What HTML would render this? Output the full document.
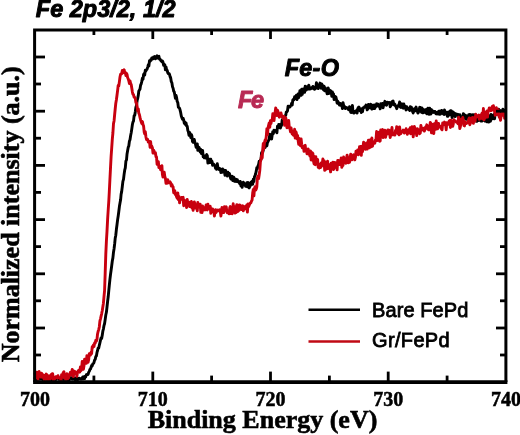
<!DOCTYPE html>
<html><head><meta charset="utf-8"><title>Fe 2p XAS</title>
<style>
html,body{margin:0;padding:0;background:#fff;}
body{width:520px;height:435px;overflow:hidden;position:relative;}
svg{position:absolute;left:0;top:0;display:block;}
.serif{font-family:"Liberation Serif",serif;font-weight:bold;}
.sans{font-family:"Liberation Sans",sans-serif;}
</style></head><body>
<svg width="520" height="435" viewBox="0 0 520 435">
<rect width="520" height="435" fill="#fff"/>
<polyline points="35.0,378.2 35.6,379.1 36.2,377.9 36.8,379.6 37.4,378.5 38.0,377.9 38.5,379.2 39.1,378.3 39.7,379.1 40.3,377.9 40.9,378.9 41.5,378.2 42.1,377.5 42.7,379.6 43.3,378.0 43.9,378.2 44.4,377.6 45.0,377.4 45.6,377.2 46.2,378.2 46.8,379.2 47.4,378.0 48.0,378.1 48.6,379.9 49.2,380.2 49.8,378.7 50.3,378.6 50.9,377.8 51.5,377.8 52.1,379.7 52.7,378.5 53.3,377.2 53.9,378.8 54.5,379.0 55.1,378.7 55.7,379.5 56.2,377.5 56.8,378.4 57.4,378.3 58.0,377.7 58.6,378.8 59.2,379.3 59.8,379.0 60.4,378.0 61.0,379.4 61.6,378.6 62.1,378.1 62.7,379.3 63.3,378.0 63.9,379.5 64.5,378.5 65.1,379.3 65.7,377.4 66.3,379.2 66.9,377.8 67.5,377.1 68.0,379.8 68.6,379.4 69.2,379.7 69.8,378.6 70.4,378.3 71.0,377.6 71.6,378.4 72.2,379.0 72.8,378.7 73.4,377.8 73.9,378.0 74.5,379.1 75.1,379.7 75.7,379.5 76.3,377.7 76.9,378.4 77.5,379.8 78.1,378.7 78.7,378.4 79.3,378.3 79.8,378.6 80.4,379.1 81.0,379.0 81.6,379.1 82.2,378.4 82.8,376.9 83.4,378.8 84.0,376.8 84.6,378.6 85.2,376.3 85.7,376.9 86.3,374.8 86.9,374.7 87.5,374.2 88.1,374.4 88.7,372.2 89.3,371.3 89.9,369.4 90.5,369.0 91.1,367.3 91.6,365.6 92.2,365.9 92.8,363.9 93.4,363.4 94.0,362.4 94.6,360.2 95.2,359.4 95.8,356.5 96.4,356.1 97.0,352.4 97.5,350.8 98.1,348.2 98.7,348.2 99.3,345.3 99.9,342.8 100.5,340.2 101.1,338.0 101.7,338.3 102.3,335.1 102.9,330.8 103.4,329.1 104.0,325.6 104.6,323.5 105.2,319.4 105.8,315.0 106.4,312.3 107.0,307.0 107.6,301.5 108.2,296.8 108.8,290.3 109.3,285.3 109.9,279.7 110.5,274.7 111.1,270.3 111.7,265.8 112.3,261.0 112.9,257.9 113.5,252.2 114.1,248.5 114.7,243.5 115.2,238.3 115.8,235.2 116.4,229.3 117.0,224.7 117.6,219.9 118.2,216.0 118.8,211.5 119.4,206.6 120.0,203.1 120.6,199.8 121.1,194.4 121.7,191.4 122.3,186.5 122.9,181.4 123.5,179.4 124.1,174.4 124.7,170.2 125.3,167.9 125.9,161.1 126.5,159.9 127.0,154.3 127.6,150.8 128.2,147.4 128.8,146.0 129.4,141.3 130.0,139.8 130.6,135.7 131.2,132.8 131.8,128.9 132.4,124.5 132.9,122.2 133.5,121.1 134.1,115.8 134.7,115.4 135.3,111.7 135.9,107.2 136.5,105.5 137.1,100.7 137.7,98.4 138.3,95.3 138.8,91.0 139.4,90.2 140.0,89.0 140.6,85.1 141.2,83.8 141.8,81.4 142.4,78.3 143.0,79.3 143.6,74.4 144.2,73.4 144.7,75.2 145.3,70.2 145.9,71.0 146.5,69.7 147.1,69.1 147.7,67.1 148.3,64.8 148.9,65.9 149.5,60.6 150.1,61.2 150.6,59.8 151.2,60.2 151.8,58.0 152.4,58.1 153.0,58.7 153.6,57.0 154.2,57.7 154.8,56.6 155.4,58.8 156.0,57.7 156.5,57.1 157.1,55.8 157.7,58.0 158.3,56.5 158.9,56.3 159.5,59.1 160.1,59.2 160.7,60.5 161.3,60.7 161.9,61.8 162.4,60.9 163.0,62.1 163.6,65.2 164.2,64.4 164.8,64.7 165.4,69.9 166.0,66.9 166.6,69.8 167.2,70.3 167.8,72.9 168.3,73.5 168.9,73.4 169.5,74.3 170.1,76.6 170.7,78.1 171.3,81.7 171.9,82.9 172.5,86.8 173.1,88.2 173.7,91.3 174.2,91.8 174.8,94.7 175.4,98.2 176.0,95.3 176.6,97.7 177.2,101.4 177.8,102.7 178.4,107.2 179.0,107.6 179.6,108.4 180.1,110.2 180.7,112.7 181.3,116.1 181.9,117.7 182.5,119.2 183.1,118.3 183.7,120.0 184.3,123.3 184.9,122.0 185.5,124.6 186.0,122.8 186.6,125.9 187.2,126.1 187.8,130.3 188.4,132.0 189.0,135.3 189.6,132.5 190.2,133.6 190.8,137.6 191.4,134.6 191.9,136.0 192.5,141.5 193.1,142.1 193.7,141.4 194.3,139.4 194.9,142.6 195.5,144.1 196.1,147.2 196.7,146.0 197.3,143.9 197.8,150.4 198.4,148.1 199.0,147.4 199.6,148.9 200.2,151.9 200.8,149.4 201.4,153.6 202.0,153.1 202.6,150.4 203.2,156.8 203.7,156.5 204.3,157.8 204.9,156.1 205.5,158.0 206.1,155.9 206.7,154.6 207.3,155.7 207.9,163.1 208.5,160.7 209.1,162.7 209.6,159.2 210.2,162.5 210.8,159.3 211.4,161.6 212.0,161.3 212.6,165.2 213.2,163.8 213.8,164.4 214.4,165.3 215.0,165.9 215.5,168.3 216.1,166.3 216.7,169.4 217.3,163.7 217.9,167.2 218.5,168.8 219.1,169.4 219.7,168.5 220.3,168.9 220.9,172.6 221.4,171.6 222.0,172.2 222.6,168.9 223.2,170.5 223.8,170.0 224.4,171.6 225.0,175.3 225.6,170.5 226.2,173.4 226.8,173.2 227.3,176.1 227.9,172.1 228.5,173.9 229.1,173.2 229.7,174.3 230.3,177.4 230.9,178.9 231.5,176.8 232.1,176.2 232.7,180.5 233.2,180.6 233.8,177.2 234.4,181.3 235.0,181.4 235.6,179.2 236.2,181.6 236.8,179.8 237.4,179.8 238.0,181.8 238.6,181.5 239.1,182.4 239.7,183.6 240.3,181.5 240.9,185.7 241.5,182.7 242.1,187.4 242.7,184.3 243.3,182.2 243.9,183.2 244.5,184.8 245.0,183.7 245.6,186.4 246.2,185.4 246.8,182.8 247.4,186.8 248.0,182.5 248.6,187.0 249.2,187.9 249.8,186.5 250.4,185.3 250.9,182.3 251.5,181.9 252.1,181.3 252.7,184.4 253.3,179.2 253.9,181.6 254.5,176.6 255.1,175.7 255.7,173.5 256.3,170.9 256.8,167.6 257.4,168.3 258.0,165.8 258.6,164.5 259.2,161.3 259.8,161.3 260.4,160.2 261.0,159.4 261.6,152.6 262.2,151.9 262.7,152.3 263.3,150.2 263.9,147.4 264.5,146.3 265.1,147.4 265.7,145.7 266.3,143.6 266.9,145.8 267.5,142.3 268.1,141.6 268.6,140.3 269.2,139.2 269.8,134.3 270.4,135.4 271.0,137.5 271.6,139.0 272.2,135.1 272.8,131.6 273.4,133.6 274.0,130.1 274.5,130.8 275.1,131.3 275.7,130.5 276.3,130.4 276.9,132.8 277.5,126.1 278.1,127.7 278.7,124.4 279.3,125.4 279.9,124.4 280.4,128.0 281.0,126.3 281.6,125.2 282.2,119.8 282.8,123.8 283.4,120.8 284.0,119.3 284.6,120.1 285.2,115.6 285.8,115.0 286.3,112.0 286.9,111.9 287.5,110.8 288.1,106.2 288.7,106.4 289.3,106.9 289.9,107.0 290.5,105.8 291.1,105.0 291.7,103.2 292.2,105.0 292.8,100.0 293.4,99.4 294.0,99.7 294.6,96.7 295.2,98.4 295.8,98.5 296.4,95.3 297.0,99.6 297.6,97.5 298.1,94.0 298.7,97.5 299.3,95.3 299.9,90.8 300.5,91.7 301.1,95.4 301.7,89.3 302.3,94.3 302.9,89.2 303.5,88.9 304.0,90.9 304.6,92.3 305.2,86.2 305.8,86.9 306.4,90.0 307.0,87.6 307.6,86.6 308.2,89.0 308.8,85.1 309.4,88.9 309.9,89.1 310.5,88.7 311.1,88.7 311.7,87.5 312.3,88.3 312.9,86.4 313.5,87.3 314.1,89.1 314.7,89.3 315.3,88.7 315.8,88.1 316.4,82.8 317.0,84.3 317.6,86.0 318.2,88.6 318.8,85.5 319.4,85.5 320.0,83.1 320.6,86.1 321.2,88.3 321.7,84.0 322.3,85.1 322.9,86.2 323.5,89.7 324.1,86.1 324.7,90.8 325.3,88.0 325.9,90.1 326.5,91.0 327.1,93.8 327.6,91.9 328.2,87.9 328.8,93.6 329.4,91.9 330.0,90.3 330.6,90.9 331.2,92.2 331.8,96.2 332.4,92.0 333.0,94.4 333.5,93.9 334.1,99.5 334.7,97.3 335.3,96.5 335.9,97.0 336.5,99.6 337.1,103.1 337.7,101.2 338.3,103.7 338.9,102.7 339.4,105.0 340.0,105.2 340.6,103.6 341.2,104.4 341.8,104.4 342.4,108.6 343.0,102.6 343.6,105.4 344.2,106.0 344.8,107.0 345.3,108.5 345.9,108.1 346.5,107.5 347.1,107.8 347.7,108.5 348.3,109.3 348.9,109.8 349.5,106.7 350.1,107.8 350.7,112.2 351.2,112.5 351.8,112.4 352.4,105.4 353.0,112.0 353.6,113.1 354.2,113.0 354.8,111.4 355.4,111.6 356.0,112.3 356.6,110.3 357.1,113.0 357.7,108.7 358.3,107.6 358.9,107.0 359.5,110.6 360.1,110.7 360.7,108.9 361.3,112.6 361.9,108.6 362.5,111.7 363.0,108.8 363.6,107.4 364.2,107.6 364.8,106.5 365.4,107.0 366.0,105.1 366.6,106.9 367.2,109.9 367.8,108.8 368.4,104.5 368.9,107.4 369.5,107.7 370.1,107.8 370.7,104.3 371.3,107.6 371.9,109.1 372.5,105.3 373.1,107.1 373.7,108.5 374.3,105.0 374.8,108.5 375.4,105.8 376.0,106.4 376.6,103.8 377.2,105.5 377.8,104.1 378.4,106.1 379.0,106.4 379.6,105.7 380.2,108.9 380.7,103.8 381.3,106.8 381.9,106.5 382.5,103.5 383.1,107.7 383.7,103.7 384.3,103.5 384.9,101.3 385.5,104.7 386.1,104.2 386.6,105.2 387.2,102.2 387.8,103.1 388.4,102.5 389.0,102.9 389.6,102.5 390.2,106.7 390.8,105.8 391.4,103.7 392.0,101.8 392.5,102.1 393.1,101.1 393.7,104.7 394.3,103.8 394.9,104.3 395.5,106.0 396.1,106.7 396.7,108.7 397.3,107.0 397.9,106.0 398.4,105.4 399.0,104.8 399.6,102.0 400.2,106.9 400.8,107.4 401.4,105.6 402.0,103.8 402.6,107.6 403.2,108.1 403.8,104.0 404.3,106.8 404.9,105.9 405.5,108.3 406.1,110.0 406.7,106.6 407.3,108.8 407.9,108.8 408.5,108.6 409.1,109.8 409.7,110.4 410.2,106.8 410.8,108.3 411.4,107.3 412.0,109.4 412.6,111.6 413.2,112.9 413.8,110.8 414.4,108.8 415.0,110.9 415.6,108.4 416.1,107.1 416.7,110.1 417.3,111.1 417.9,113.1 418.5,112.2 419.1,109.8 419.7,107.3 420.3,107.5 420.9,110.0 421.5,112.3 422.0,107.9 422.6,112.9 423.2,112.8 423.8,109.6 424.4,111.1 425.0,112.3 425.6,112.6 426.2,109.4 426.8,113.9 427.4,112.2 427.9,108.3 428.5,110.0 429.1,114.3 429.7,108.3 430.3,110.0 430.9,114.1 431.5,109.7 432.1,111.6 432.7,110.8 433.3,112.4 433.8,111.4 434.4,111.7 435.0,111.5 435.6,113.4 436.2,113.9 436.8,113.0 437.4,112.2 438.0,114.0 438.6,111.7 439.2,111.0 439.7,114.3 440.3,114.1 440.9,113.5 441.5,110.5 442.1,110.7 442.7,113.5 443.3,114.0 443.9,114.5 444.5,109.9 445.1,114.1 445.6,113.7 446.2,112.0 446.8,112.4 447.4,116.4 448.0,116.3 448.6,111.9 449.2,113.2 449.8,114.8 450.4,110.8 451.0,110.7 451.5,110.8 452.1,117.6 452.7,112.9 453.3,112.1 453.9,115.8 454.5,113.2 455.1,116.6 455.7,113.6 456.3,114.3 456.9,114.8 457.4,114.3 458.0,114.5 458.6,119.8 459.2,118.7 459.8,114.6 460.4,116.6 461.0,118.2 461.6,116.8 462.2,117.8 462.8,118.5 463.3,113.6 463.9,114.6 464.5,118.3 465.1,117.3 465.7,115.3 466.3,119.3 466.9,118.3 467.5,116.5 468.1,117.1 468.7,114.7 469.2,116.6 469.8,114.5 470.4,116.9 471.0,118.0 471.6,117.4 472.2,114.6 472.8,117.5 473.4,117.8 474.0,114.7 474.6,118.3 475.1,118.6 475.7,115.4 476.3,121.3 476.9,121.4 477.5,118.6 478.1,120.5 478.7,116.2 479.3,120.2 479.9,120.1 480.5,115.6 481.0,121.1 481.6,116.1 482.2,121.0 482.8,118.6 483.4,120.3 484.0,117.6 484.6,118.1 485.2,121.1 485.8,115.9 486.4,115.8 486.9,121.9 487.5,121.4 488.1,117.2 488.7,122.0 489.3,115.8 489.9,121.2 490.5,121.2 491.1,114.5 491.7,115.4 492.3,117.3 492.8,118.8 493.4,116.8 494.0,114.4 494.6,118.7 495.2,112.9 495.8,111.5 496.4,110.8 497.0,114.5 497.6,114.0 498.2,112.4 498.7,109.2 499.3,115.5 499.9,112.9 500.5,110.7 501.1,111.8 501.7,114.6 502.3,113.1 502.9,109.3 503.5,114.1 504.1,113.4 504.6,110.2" fill="none" stroke="#000" stroke-width="2.9" stroke-linejoin="round" stroke-linecap="round"/>
<polyline points="35.0,373.6 35.6,375.4 36.2,377.4 36.8,372.3 37.4,376.6 38.0,379.2 38.5,372.4 39.1,371.5 39.7,375.1 40.3,375.4 40.9,377.1 41.5,373.2 42.1,374.3 42.7,377.3 43.3,374.8 43.9,377.6 44.4,380.4 45.0,379.3 45.6,375.6 46.2,374.1 46.8,374.7 47.4,376.5 48.0,380.6 48.6,376.7 49.2,375.7 49.8,379.3 50.3,376.3 50.9,378.3 51.5,374.3 52.1,373.7 52.7,373.8 53.3,379.8 53.9,377.9 54.5,379.0 55.1,377.8 55.7,376.6 56.2,376.7 56.8,377.3 57.4,377.9 58.0,375.7 58.6,377.6 59.2,377.9 59.8,377.9 60.4,377.5 61.0,380.7 61.6,374.6 62.1,377.6 62.7,374.3 63.3,372.5 63.9,371.7 64.5,378.1 65.1,377.0 65.7,379.4 66.3,377.0 66.9,373.8 67.5,379.1 68.0,377.6 68.6,377.7 69.2,374.8 69.8,373.9 70.4,372.1 71.0,372.1 71.6,375.1 72.2,369.4 72.8,370.6 73.4,376.6 73.9,371.1 74.5,371.4 75.1,371.7 75.7,374.0 76.3,372.2 76.9,376.2 77.5,372.1 78.1,371.3 78.7,370.3 79.3,370.0 79.8,372.2 80.4,367.0 81.0,370.5 81.6,368.5 82.2,361.5 82.8,365.5 83.4,369.2 84.0,365.8 84.6,359.2 85.2,361.5 85.7,358.9 86.3,363.4 86.9,355.7 87.5,356.2 88.1,362.3 88.7,359.4 89.3,353.7 89.9,354.2 90.5,355.0 91.1,352.2 91.6,353.6 92.2,346.8 92.8,347.5 93.4,345.1 94.0,346.4 94.6,342.9 95.2,343.2 95.8,340.2 96.4,341.0 97.0,339.2 97.5,334.3 98.1,331.5 98.7,329.6 99.3,327.0 99.9,321.1 100.5,318.8 101.1,316.2 101.7,313.6 102.3,310.4 102.9,306.6 103.4,303.4 104.0,296.7 104.6,290.3 105.2,272.7 105.8,254.1 106.4,241.3 107.0,231.3 107.6,219.6 108.2,210.0 108.8,201.2 109.3,191.8 109.9,179.7 110.5,168.2 111.1,156.7 111.7,148.1 112.3,139.3 112.9,133.0 113.5,123.6 114.1,120.7 114.7,114.0 115.2,109.0 115.8,103.2 116.4,99.7 117.0,95.3 117.6,90.6 118.2,85.5 118.8,85.9 119.4,81.6 120.0,77.0 120.6,74.2 121.1,73.7 121.7,73.7 122.3,70.4 122.9,72.9 123.5,70.8 124.1,69.7 124.7,72.3 125.3,72.4 125.9,75.5 126.5,73.3 127.0,74.3 127.6,77.5 128.2,78.8 128.8,80.7 129.4,83.5 130.0,80.8 130.6,83.3 131.2,84.6 131.8,88.3 132.4,92.1 132.9,94.1 133.5,94.6 134.1,97.1 134.7,97.4 135.3,98.6 135.9,102.5 136.5,102.8 137.1,106.3 137.7,110.9 138.3,108.8 138.8,113.1 139.4,114.5 140.0,117.4 140.6,119.9 141.2,121.8 141.8,123.4 142.4,121.6 143.0,124.6 143.6,126.1 144.2,132.1 144.7,133.9 145.3,131.6 145.9,136.7 146.5,139.5 147.1,139.7 147.7,139.5 148.3,142.1 148.9,141.4 149.5,141.4 150.1,147.3 150.6,141.7 151.2,147.0 151.8,146.2 152.4,147.7 153.0,153.1 153.6,150.1 154.2,151.4 154.8,153.4 155.4,152.7 156.0,156.9 156.5,156.9 157.1,164.3 157.7,163.1 158.3,161.5 158.9,167.5 159.5,166.3 160.1,167.3 160.7,169.9 161.3,168.0 161.9,165.7 162.4,174.4 163.0,177.1 163.6,172.3 164.2,172.2 164.8,176.4 165.4,178.4 166.0,183.2 166.6,181.7 167.2,183.2 167.8,179.6 168.3,182.8 168.9,182.9 169.5,182.4 170.1,181.9 170.7,182.9 171.3,186.0 171.9,184.6 172.5,186.3 173.1,187.0 173.7,192.7 174.2,193.0 174.8,190.6 175.4,194.6 176.0,195.1 176.6,196.9 177.2,198.2 177.8,193.0 178.4,199.7 179.0,196.5 179.6,202.9 180.1,198.9 180.7,198.2 181.3,199.3 181.9,197.4 182.5,197.8 183.1,197.4 183.7,205.7 184.3,200.0 184.9,201.3 185.5,203.0 186.0,201.2 186.6,207.5 187.2,199.5 187.8,202.9 188.4,203.7 189.0,202.1 189.6,206.6 190.2,203.7 190.8,204.1 191.4,201.4 191.9,208.0 192.5,205.0 193.1,210.3 193.7,204.0 194.3,202.0 194.9,204.0 195.5,208.1 196.1,208.1 196.7,206.2 197.3,210.7 197.8,202.4 198.4,206.3 199.0,205.4 199.6,207.0 200.2,204.2 200.8,212.3 201.4,206.9 202.0,212.6 202.6,206.0 203.2,207.4 203.7,210.0 204.3,209.7 204.9,208.3 205.5,209.8 206.1,205.0 206.7,208.0 207.3,209.9 207.9,204.1 208.5,208.9 209.1,206.3 209.6,207.2 210.2,206.2 210.8,213.3 211.4,211.8 212.0,208.9 212.6,208.9 213.2,211.5 213.8,210.3 214.4,216.1 215.0,211.8 215.5,209.6 216.1,212.6 216.7,211.0 217.3,210.0 217.9,210.3 218.5,210.7 219.1,210.2 219.7,209.7 220.3,211.2 220.9,216.0 221.4,212.2 222.0,207.4 222.6,212.5 223.2,212.3 223.8,212.5 224.4,206.8 225.0,208.2 225.6,208.0 226.2,206.8 226.8,211.3 227.3,212.8 227.9,212.7 228.5,212.0 229.1,213.8 229.7,208.1 230.3,206.5 230.9,213.6 231.5,207.4 232.1,213.7 232.7,209.2 233.2,203.8 233.8,211.6 234.4,206.4 235.0,213.0 235.6,207.0 236.2,212.5 236.8,204.7 237.4,210.7 238.0,211.4 238.6,205.2 239.1,210.4 239.7,205.0 240.3,206.4 240.9,205.8 241.5,209.6 242.1,206.1 242.7,205.7 243.3,210.8 243.9,209.3 244.5,206.8 245.0,206.5 245.6,207.4 246.2,209.1 246.8,204.9 247.4,212.1 248.0,204.0 248.6,206.7 249.2,205.2 249.8,203.7 250.4,203.0 250.9,202.7 251.5,201.1 252.1,200.0 252.7,192.8 253.3,189.4 253.9,195.8 254.5,188.3 255.1,186.7 255.7,190.1 256.3,188.8 256.8,186.9 257.4,178.1 258.0,175.9 258.6,178.7 259.2,174.8 259.8,170.4 260.4,161.9 261.0,159.5 261.6,155.5 262.2,158.0 262.7,149.8 263.3,143.5 263.9,148.7 264.5,142.3 265.1,140.1 265.7,140.8 266.3,136.1 266.9,128.7 267.5,134.5 268.1,127.5 268.6,125.3 269.2,122.9 269.8,127.2 270.4,120.6 271.0,123.5 271.6,120.1 272.2,120.2 272.8,113.8 273.4,114.5 274.0,120.5 274.5,115.5 275.1,112.6 275.7,107.9 276.3,113.4 276.9,115.6 277.5,110.2 278.1,111.8 278.7,114.6 279.3,117.2 279.9,116.1 280.4,115.7 281.0,113.0 281.6,115.5 282.2,117.0 282.8,116.5 283.4,118.8 284.0,116.3 284.6,125.3 285.2,125.0 285.8,118.0 286.3,121.5 286.9,127.7 287.5,123.2 288.1,123.4 288.7,120.5 289.3,127.7 289.9,128.7 290.5,131.7 291.1,128.0 291.7,131.2 292.2,133.9 292.8,134.4 293.4,135.2 294.0,134.8 294.6,129.3 295.2,138.1 295.8,131.6 296.4,133.3 297.0,138.7 297.6,135.4 298.1,140.3 298.7,144.2 299.3,138.5 299.9,144.8 300.5,145.8 301.1,139.0 301.7,144.4 302.3,147.8 302.9,146.8 303.5,146.3 304.0,151.4 304.6,146.0 305.2,145.4 305.8,150.8 306.4,149.8 307.0,153.7 307.6,153.7 308.2,149.0 308.8,154.2 309.4,153.3 309.9,155.9 310.5,150.9 311.1,160.0 311.7,157.9 312.3,152.7 312.9,153.6 313.5,161.3 314.1,164.0 314.7,156.6 315.3,164.7 315.8,156.6 316.4,162.5 317.0,162.4 317.6,159.4 318.2,167.3 318.8,164.0 319.4,168.0 320.0,166.6 320.6,167.6 321.2,162.9 321.7,163.9 322.3,163.5 322.9,159.0 323.5,166.2 324.1,160.7 324.7,170.4 325.3,161.9 325.9,166.1 326.5,169.2 327.1,164.0 327.6,161.2 328.2,168.5 328.8,165.6 329.4,164.9 330.0,168.3 330.6,171.9 331.2,163.3 331.8,167.2 332.4,166.9 333.0,162.2 333.5,169.6 334.1,168.0 334.7,162.4 335.3,163.6 335.9,163.1 336.5,165.5 337.1,169.8 337.7,160.5 338.3,162.7 338.9,160.6 339.4,164.6 340.0,161.5 340.6,163.3 341.2,158.0 341.8,167.3 342.4,160.6 343.0,165.5 343.6,157.0 344.2,159.7 344.8,160.9 345.3,162.9 345.9,163.3 346.5,158.5 347.1,155.1 347.7,158.1 348.3,162.7 348.9,161.6 349.5,162.2 350.1,158.0 350.7,154.3 351.2,156.8 351.8,159.9 352.4,156.7 353.0,156.5 353.6,154.8 354.2,156.5 354.8,159.9 355.4,157.5 356.0,151.2 356.6,153.3 357.1,152.5 357.7,150.1 358.3,154.9 358.9,153.7 359.5,146.8 360.1,147.4 360.7,146.4 361.3,155.4 361.9,146.1 362.5,151.6 363.0,146.9 363.6,142.2 364.2,143.4 364.8,145.7 365.4,149.2 366.0,146.1 366.6,143.0 367.2,149.0 367.8,143.7 368.4,140.3 368.9,147.0 369.5,147.8 370.1,143.3 370.7,139.4 371.3,146.7 371.9,138.0 372.5,146.3 373.1,143.1 373.7,142.8 374.3,141.9 374.8,143.2 375.4,140.1 376.0,139.5 376.6,131.5 377.2,140.6 377.8,139.3 378.4,134.8 379.0,132.1 379.6,141.2 380.2,141.0 380.7,130.0 381.3,136.3 381.9,130.8 382.5,129.6 383.1,137.6 383.7,136.0 384.3,134.5 384.9,130.1 385.5,137.4 386.1,134.9 386.6,132.3 387.2,131.7 387.8,129.9 388.4,133.9 389.0,130.1 389.6,132.4 390.2,137.6 390.8,134.0 391.4,131.4 392.0,127.5 392.5,134.7 393.1,134.3 393.7,134.8 394.3,134.8 394.9,135.0 395.5,130.4 396.1,132.2 396.7,126.6 397.3,127.4 397.9,133.5 398.4,131.5 399.0,134.8 399.6,127.0 400.2,131.4 400.8,133.7 401.4,131.6 402.0,131.5 402.6,131.7 403.2,130.0 403.8,132.4 404.3,132.9 404.9,130.1 405.5,132.2 406.1,128.8 406.7,130.9 407.3,134.3 407.9,132.6 408.5,132.8 409.1,129.5 409.7,130.2 410.2,127.7 410.8,133.8 411.4,130.6 412.0,126.8 412.6,128.0 413.2,136.9 413.8,131.7 414.4,126.5 415.0,132.0 415.6,133.0 416.1,128.9 416.7,135.6 417.3,128.6 417.9,132.3 418.5,131.9 419.1,130.1 419.7,133.7 420.3,132.9 420.9,125.4 421.5,129.8 422.0,130.0 422.6,128.4 423.2,128.3 423.8,129.6 424.4,131.1 425.0,129.2 425.6,126.9 426.2,127.0 426.8,124.8 427.4,127.8 427.9,129.2 428.5,126.1 429.1,129.9 429.7,128.0 430.3,122.4 430.9,123.5 431.5,132.9 432.1,124.2 432.7,125.1 433.3,129.2 433.8,133.5 434.4,123.8 435.0,125.9 435.6,129.3 436.2,121.0 436.8,126.0 437.4,128.9 438.0,128.3 438.6,123.5 439.2,125.9 439.7,126.6 440.3,126.2 440.9,127.3 441.5,129.1 442.1,129.7 442.7,123.0 443.3,123.4 443.9,124.4 444.5,122.1 445.1,122.8 445.6,124.8 446.2,129.7 446.8,122.6 447.4,124.0 448.0,124.3 448.6,122.7 449.2,121.1 449.8,120.5 450.4,127.5 451.0,120.2 451.5,125.9 452.1,122.1 452.7,126.4 453.3,123.9 453.9,119.7 454.5,121.4 455.1,120.7 455.7,121.4 456.3,122.1 456.9,121.9 457.4,122.7 458.0,123.7 458.6,117.1 459.2,121.2 459.8,128.6 460.4,126.6 461.0,122.7 461.6,119.0 462.2,120.4 462.8,117.4 463.3,120.9 463.9,125.5 464.5,125.9 465.1,121.7 465.7,122.6 466.3,123.6 466.9,123.0 467.5,122.9 468.1,122.3 468.7,119.2 469.2,117.9 469.8,124.7 470.4,123.2 471.0,119.9 471.6,117.9 472.2,120.1 472.8,117.6 473.4,123.4 474.0,117.8 474.6,120.6 475.1,121.0 475.7,114.3 476.3,117.2 476.9,116.7 477.5,116.5 478.1,115.5 478.7,115.0 479.3,119.2 479.9,116.0 480.5,117.0 481.0,118.3 481.6,114.1 482.2,112.9 482.8,118.8 483.4,108.5 484.0,119.9 484.6,116.4 485.2,117.8 485.8,114.1 486.4,111.8 486.9,111.0 487.5,117.1 488.1,111.3 488.7,110.1 489.3,108.0 489.9,108.3 490.5,110.7 491.1,107.9 491.7,110.4 492.3,106.4 492.8,109.7 493.4,105.8 494.0,108.8 494.6,111.6 495.2,115.2 495.8,110.2 496.4,107.7 497.0,114.0 497.6,114.8 498.2,109.6 498.7,113.1 499.3,117.3 499.9,116.7 500.5,120.3 501.1,116.5 501.7,113.4 502.3,115.3 502.9,114.3 503.5,111.8 504.1,111.9 504.6,118.4" fill="none" stroke="#c8000f" stroke-width="2.9" stroke-linejoin="round" stroke-linecap="round"/>
<g stroke="#000" stroke-width="2.8" stroke-linecap="butt"><line x1="93.9" y1="381" x2="93.9" y2="375.6"/><line x1="93.9" y1="30" x2="93.9" y2="35"/><line x1="152.8" y1="381" x2="152.8" y2="371.6"/><line x1="152.8" y1="30" x2="152.8" y2="39"/><line x1="211.6" y1="381" x2="211.6" y2="375.6"/><line x1="211.6" y1="30" x2="211.6" y2="35"/><line x1="270.5" y1="381" x2="270.5" y2="371.6"/><line x1="270.5" y1="30" x2="270.5" y2="39"/><line x1="329.4" y1="381" x2="329.4" y2="375.6"/><line x1="329.4" y1="30" x2="329.4" y2="35"/><line x1="388.2" y1="381" x2="388.2" y2="371.6"/><line x1="388.2" y1="30" x2="388.2" y2="39"/><line x1="447.1" y1="381" x2="447.1" y2="375.6"/><line x1="447.1" y1="30" x2="447.1" y2="35"/><line x1="35" y1="57.0" x2="45" y2="57.0"/><line x1="506" y1="57.0" x2="496" y2="57.0"/><line x1="35" y1="111.2" x2="45" y2="111.2"/><line x1="506" y1="111.2" x2="496" y2="111.2"/><line x1="35" y1="165.4" x2="45" y2="165.4"/><line x1="506" y1="165.4" x2="496" y2="165.4"/><line x1="35" y1="219.6" x2="45" y2="219.6"/><line x1="506" y1="219.6" x2="496" y2="219.6"/><line x1="35" y1="273.8" x2="45" y2="273.8"/><line x1="506" y1="273.8" x2="496" y2="273.8"/><line x1="35" y1="328.0" x2="45" y2="328.0"/><line x1="506" y1="328.0" x2="496" y2="328.0"/><line x1="35" y1="84.0" x2="41" y2="84.0"/><line x1="506" y1="84.0" x2="500" y2="84.0"/><line x1="35" y1="138.2" x2="41" y2="138.2"/><line x1="506" y1="138.2" x2="500" y2="138.2"/><line x1="35" y1="192.4" x2="41" y2="192.4"/><line x1="506" y1="192.4" x2="500" y2="192.4"/><line x1="35" y1="246.6" x2="41" y2="246.6"/><line x1="506" y1="246.6" x2="500" y2="246.6"/><line x1="35" y1="300.8" x2="41" y2="300.8"/><line x1="506" y1="300.8" x2="500" y2="300.8"/><line x1="35" y1="355.0" x2="41" y2="355.0"/><line x1="506" y1="355.0" x2="500" y2="355.0"/></g>
<path d="M34.6,382 V30 H505.9 V382" fill="none" stroke="#000" stroke-width="3"/>
<line x1="33.1" y1="382.2" x2="507.4" y2="382.2" stroke="#000" stroke-width="3.7"/>
<text class="sans" x="35.8" y="17.4" font-size="23.5" font-weight="bold" font-style="italic" letter-spacing="0" fill="#000" stroke="#000" stroke-width="0.95" stroke-linejoin="round">Fe 2p3/2, 1/2</text>
<text class="sans" x="284.8" y="76.2" font-size="23.5" font-weight="bold" font-style="italic" letter-spacing="0.2" fill="#000" stroke="#000" stroke-width="0.95" stroke-linejoin="round">Fe-O</text>
<text class="sans" x="238" y="107.6" font-size="23.5" font-weight="bold" font-style="italic" letter-spacing="-1.4" fill="#b82a54" stroke="#b82a54" stroke-width="0.95" stroke-linejoin="round">Fe</text>
<line x1="308.5" y1="309.7" x2="360" y2="309.7" stroke="#000" stroke-width="2.6"/>
<line x1="308.5" y1="341.5" x2="360" y2="341.5" stroke="#c00a14" stroke-width="2.3"/>
<text class="sans" x="372" y="317.2" font-size="20" fill="#000" stroke="#000" stroke-width="0.8" letter-spacing="0.1">Bare FePd</text>
<text class="sans" x="372" y="347.4" font-size="20" fill="#000" stroke="#000" stroke-width="0.8" letter-spacing="0.35">Gr/FePd</text>
<g class="serif" font-size="20" fill="#000" stroke="#000" stroke-width="0.5"><text x="35.0" y="405.8" text-anchor="middle">700</text><text x="152.8" y="405.8" text-anchor="middle">710</text><text x="270.5" y="405.8" text-anchor="middle">720</text><text x="388.2" y="405.8" text-anchor="middle">730</text><text x="506.0" y="405.8" text-anchor="middle">740</text></g>
<text class="serif" x="262.5" y="427.8" font-size="26" text-anchor="middle" fill="#000" stroke="#000" stroke-width="0.6">Binding Energy (eV)</text>
<text class="serif" transform="translate(18.7,214.3) rotate(-90)" font-size="26" text-anchor="middle" fill="#000" stroke="#000" stroke-width="0.6">Normalized intensity (a.u.)</text>
</svg>
</body></html>
